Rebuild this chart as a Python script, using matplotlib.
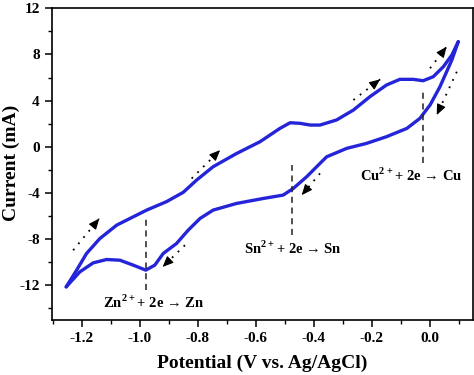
import matplotlib.pyplot as plt
import numpy as np

plt.rcParams['font.family'] = ['Liberation Serif', 'DejaVu Serif']
plt.rcParams['font.weight'] = 'bold'
plt.rcParams['mathtext.fontset'] = 'custom'
plt.rcParams['mathtext.rm'] = 'Liberation Serif:bold'
plt.rcParams['axes.unicode_minus'] = False

# anodic (forward) scan
fwd_x = [-1.253, -1.217, -1.183, -1.137, -1.079, -1.022, -0.976, -0.907, -0.850, -0.804,
         -0.747, -0.666, -0.586, -0.517, -0.482, -0.448, -0.413, -0.379, -0.322, -0.264,
         -0.207, -0.150, -0.104, -0.058, -0.024, 0.011, 0.046, 0.075, 0.097]
fwd_y = [-12.14, -10.69, -9.25, -7.95, -6.79, -6.07, -5.49, -4.75, -3.95, -2.89,
         -1.73, -0.58, 0.43, 1.59, 2.08, 2.03, 1.88, 1.88, 2.32, 3.18,
         4.34, 5.35, 5.84, 5.84, 5.72, 6.07, 6.94, 7.95, 9.1]

# cathodic (reverse) scan
rev_x = [0.097, 0.075, 0.034, 0.0, -0.035, -0.080, -0.150, -0.219, -0.287, -0.356,
         -0.379, -0.425, -0.471, -0.506, -0.574, -0.666, -0.747, -0.792, -0.833, -0.873,
         -0.919, -0.948, -0.979, -1.022, -1.068, -1.114, -1.160, -1.206, -1.253]
rev_y = [9.1, 7.52, 5.2, 3.62, 2.46, 1.59, 0.87, 0.29, -0.14, -0.87,
         -1.44, -2.60, -3.61, -4.19, -4.48, -4.91, -5.49, -6.21, -7.23, -8.38,
         -9.25, -10.26, -10.69, -10.26, -9.83, -9.77, -10.06, -10.84, -12.14]

# peak markers (x, y_top, y_bottom)
peak_x = [-0.978, -0.476, -0.025]
peak_top = [-6.22, -1.59, 4.77]
peak_bot = [-12.44, -7.66, -1.45]

labels = ['Zn$^{2+}$+ 2e → Zn', 'Sn$^{2+}$+ 2e → Sn', 'Cu$^{2+}$+ 2e → Cu']
label_x = [-0.953, -0.471, -0.063]
label_y = [-13.5, -8.82, -2.46]

# scan direction arrows: tail -> head
arr_tail = [(-1.229, -8.97), (-0.821, -2.75), (-0.264, 4.05), (0.0, 6.8),
            (0.092, 6.5), (-0.379, -2.31), (-0.844, -8.53)]
arr_head = [(-1.139, -6.22), (-0.723, -0.29), (-0.172, 5.84), (0.057, 8.67),
            (0.023, 2.75), (-0.442, -4.19), (-0.921, -10.41)]

fig = plt.figure(figsize=(4.74, 3.75), dpi=100)
ax = fig.add_axes([0.109, 0.147, 0.889, 0.831])

ax.plot(fwd_x, fwd_y, color='#2424d8', lw=2.4, solid_capstyle='round', solid_joinstyle='round')
ax.plot(rev_x, rev_y, color='#2424d8', lw=2.4, solid_capstyle='round', solid_joinstyle='round')

for x, t, b in zip(peak_x, peak_top, peak_bot):
    ax.plot([x, x], [b, t], color='#222222', lw=1.1, ls=(0, (4, 3)))

for s, x, y in zip(labels, label_x, label_y):
    ax.text(x, y, s, ha='center', va='center', fontsize=10.5, fontweight='bold')

for (tx, ty), (hx, hy) in zip(arr_tail, arr_head):
    ax.plot([tx, hx], [ty, hy], color='k', lw=1.3, ls=(0, (1, 3.5)))
    sx = hx - 0.12 * (hx - tx)
    sy = hy - 0.12 * (hy - ty)
    ax.annotate('', xy=(hx, hy), xytext=(sx, sy),
                arrowprops=dict(arrowstyle='-|>,head_length=0.65,head_width=0.28',
                                color='k', lw=0.8, shrinkA=0, shrinkB=0))

ax.set_xlim(-1.303, 0.148)
ax.set_ylim(-15, 12)
ax.set_xticks([-1.2, -1.0, -0.8, -0.6, -0.4, -0.2, 0.0])
ax.set_xticklabels(['-1.2', '-1.0', '-0.8', '-0.6', '-0.4', '-0.2', '0.0'])
ax.set_xticks(np.arange(-1.3, 0.15, 0.1), minor=True)
ax.set_yticks([-12, -8, -4, 0, 4, 8, 12])
ax.set_yticks(np.arange(-14, 12, 2), minor=True)
ax.tick_params(axis='both', which='major', direction='out', length=5, width=1.1, labelsize=11)
ax.tick_params(axis='both', which='minor', direction='out', length=3, width=1.0)
for sp in ax.spines.values():
    sp.set_linewidth(1.2)

ax.set_xlabel('Potential (V vs. Ag/AgCl)', fontsize=14, fontweight='bold', labelpad=7)
fig.text(0.024, 0.565, 'Current (mA)', rotation=90, ha='center', va='center',
         fontsize=14, fontweight='bold')

fig.savefig('out.png', dpi=100)
